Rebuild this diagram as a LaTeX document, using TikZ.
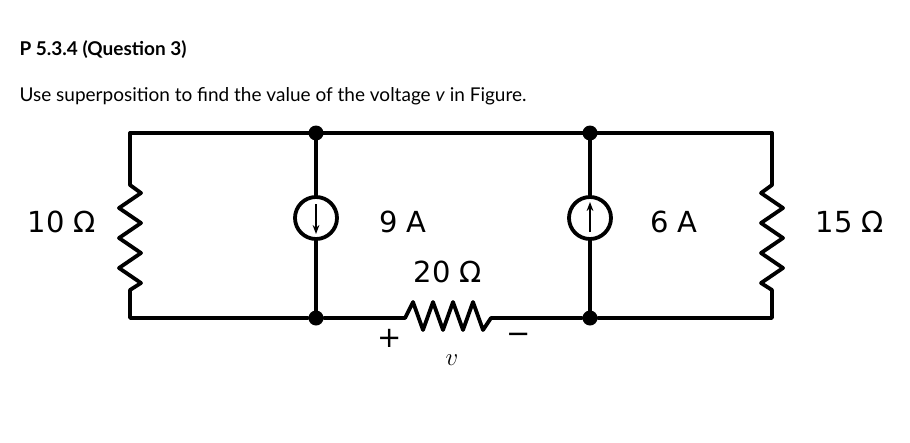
\documentclass[tikz,border=0pt]{standalone}
\usepackage{fontspec}
\setmainfont{Lato}
\newfontfamily\cf{DejaVu Sans}
\usetikzlibrary{arrows.meta}
\begin{document}
\begin{tikzpicture}[x=1pt,y=-1pt,
  wire/.style={line width=3.8pt,line join=round,line cap=round},
  dot/.style={circle,fill=black,inner sep=0pt,minimum size=15pt},
  src/.style={circle,draw,line width=3.8pt,minimum size=42pt,inner sep=0pt},
  lbl/.style={font=\cf\fontsize{29}{31}\selectfont,inner sep=0pt}]
\useasboundingbox (0,0) rectangle (910,442);
\node[anchor=west,font=\bfseries\fontsize{19}{22}\selectfont] (title) at (16,50) {P 5.3.4 (Question 3)};
\node[anchor=west,font=\fontsize{19}{22}\selectfont] (txt) at (16,96) {Use superposition to find the value of the voltage \emph{v} in Figure.};
\coordinate (tl) at (130,133); \coordinate (tr) at (772,133);
\coordinate (bl) at (130,318); \coordinate (br) at (772,318);
\node[dot] (j1) at (316,133) {}; \node[dot] (j2) at (590,133) {};
\node[dot] (j3) at (316,318) {}; \node[dot] (j4) at (590,318) {};
\node[src] (s1) at (316,218) {}; \node[src] (s2) at (590,218) {};
\draw[wire] (tl) -- (tr);
\draw[wire] (j1) -- (s1) -- (j3);
\draw[wire] (j2) -- (s2) -- (j4);
\draw[line width=2pt,-{Stealth[length=9pt]}] (316,204) -- (316,234);
\draw[line width=2pt,-{Stealth[length=9pt]}] (590,232) -- (590,202);
\draw[wire] (tl) -- (130,185) -- (141,193) -- (119,208) -- (141,223) -- (119,238) -- (141,253) -- (119,268) -- (141,283) -- (130,290) -- (bl) -- (j3) -- (405,318)
 -- (413,302) -- (423,330) -- (433,302) -- (443,330) -- (453,302) -- (463,330) -- (473,302) -- (483,330) -- (491,318) -- (j4) -- (br) -- (772,290)
 -- (761,283) -- (783,268) -- (761,253) -- (783,238) -- (761,223) -- (783,208) -- (761,193) -- (772,185) -- (tr);
\node[lbl] (l10) at (62,222) {10 Ω};
\node[lbl] (l15) at (850,222) {15 Ω};
\node[lbl] (l9) at (403,222) {9 A};
\node[lbl] (l6) at (674,222) {6 A};
\node[lbl] (l20) at (448,272) {20 Ω};
\node[lbl] (lp) at (390,338) {+};
\node[lbl] (lm) at (519,338) {−};
\node[font=\fontsize{29}{31}\selectfont,inner sep=0pt] (lv) at (452,360) {$v$};
\end{tikzpicture}
\end{document}
